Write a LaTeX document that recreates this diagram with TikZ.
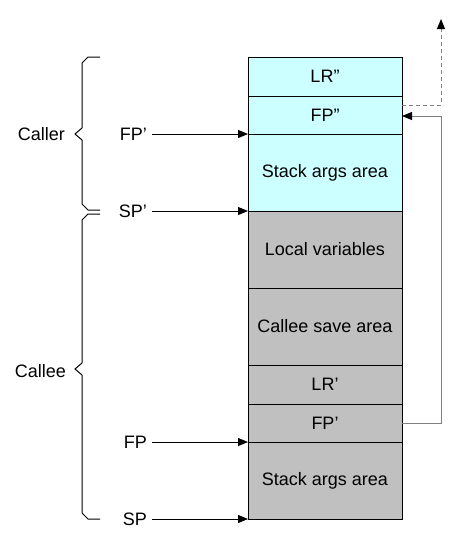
\documentclass[tikz,border=0pt]{standalone}
\usepackage{fontspec}
\setmainfont{Liberation Sans}
\usetikzlibrary{arrows.meta}
\definecolor{cyancell}{HTML}{CCFFFF}
\definecolor{graycell}{HTML}{C0C0C0}
\definecolor{linkgray}{HTML}{808080}
\begin{document}
\begin{tikzpicture}[x=1pt,y=-1pt,
  every node/.style={font=\fontsize{18}{21}\selectfont},
  cell/.style={draw=black,line width=1pt,minimum width=154pt,inner sep=0pt,outer sep=0pt,anchor=north west},
  callercell/.style={cell,fill=cyancell},
  calleecell/.style={cell,fill=graycell},
  ptrlab/.style={inner sep=0pt,anchor=east},
  ptrarrow/.style={line width=1pt,-{Triangle[length=10pt,width=8pt]}},
  brace/.style={line width=1pt},
  linkarrow/.style={line width=1pt,draw=linkgray,-{Triangle[length=10pt,width=8pt,color=black]}},
  oldlink/.style={linkarrow,dashed,dash pattern=on 4pt off 3pt}]
\useasboundingbox (0,0) rectangle (460,542);
% stack cells
\node[callercell,minimum height=39pt] (lrpp) at (248,57) {LR”};
\node[callercell,minimum height=38pt] (fppp) at (248,96) {FP”};
\node[callercell,minimum height=77pt] (args1) at (248,134) {Stack args area};
\node[calleecell,minimum height=77pt] (locals) at (248,211) {Local variables};
\node[calleecell,minimum height=77pt] (save) at (248,288) {Callee save area};
\node[calleecell,minimum height=39pt] (lrp) at (248,365) {LR’};
\node[calleecell,minimum height=38pt] (fpp) at (248,404) {FP’};
\node[calleecell,minimum height=77pt] (args2) at (248,442) {Stack args area};
% pointer labels
\node[ptrlab] (lFPp) at (147,134) {FP’};
\node[ptrlab] (lSPp) at (147,211) {SP’};
\node[ptrlab] (lFP) at (147,442) {FP};
\node[ptrlab] (lSP) at (147,519) {SP};
\draw[ptrarrow] ([xshift=5pt]lFPp.east) -- (args1.north west);
\draw[ptrarrow] ([xshift=5pt]lSPp.east) -- (args1.south west);
\draw[ptrarrow] ([xshift=5pt]lFP.east) -- (args2.north west);
\draw[ptrarrow] ([xshift=5pt]lSP.east) -- (args2.south west);
% frame links
\coordinate (linkR) at (441,0);
\coordinate (oldtop) at (441,19);
\draw[linkarrow] (fpp.east) -- (fpp.east -| linkR) -- (linkR |- {(0,116)}) -- (fppp.east |- {(0,116)});
\draw[oldlink] (fppp.east |- {(0,105)}) -- (linkR |- {(0,105)}) -- (oldtop);
% braces
\draw[brace] (100,57) -- (88,57) -- (82,63) -- (82,128) -- (75,134) -- (82,140) -- (82,204) -- (88,210) -- (100,210);
\draw[brace] (100,214) -- (88,214) -- (82,220) -- (82,363) -- (75,369) -- (82,375) -- (82,513) -- (88,519) -- (100,519);
\node[anchor=east,inner sep=0pt] (caller) at (65,134) {Caller};
\node[anchor=east,inner sep=0pt] (callee) at (66,371) {Callee};
\end{tikzpicture}
\end{document}
